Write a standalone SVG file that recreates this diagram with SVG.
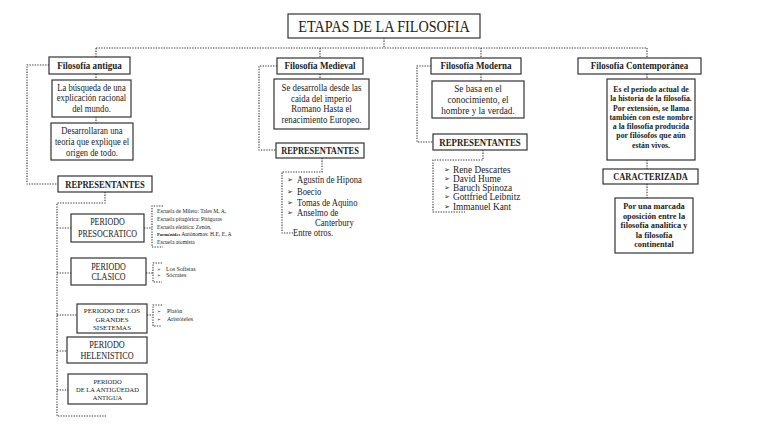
<svg xmlns="http://www.w3.org/2000/svg" width="768" height="433" viewBox="0 0 768 433">
<style>
text{font-family:"Liberation Serif","DejaVu Serif",serif;fill:#222}
.c{text-anchor:middle}
.b{font-weight:bold}
.box{fill:#fff;stroke:#333;stroke-width:1.2}
.dot{fill:none;stroke:#333;stroke-width:1.1;stroke-dasharray:1.3 1.3}
.bul{font-family:"DejaVu Sans",sans-serif}
</style>
<rect width="768" height="433" fill="#fff"/>
<g id="connectors">
<path class="dot" d="M384 38V48M96 48H647M96 48V57M320 48V58M481 48V58M647 48V58"/>
<path class="dot" d="M96 74V80M96 117V123M49 65H27V184H58M105 192V203H57V416H107M57 228H71M57 273H71M57 315H77M57 351H67M57 390H68"/>
<path class="dot" d="M144 228H152M163 206H152V247H163M146 273H153M162 263H153V282H162M147 315H153M162 305H153V326H162"/>
<path class="dot" d="M320 74V79M277 66H259V150H276M322 158V172H282V233H293"/>
<path class="dot" d="M481 74V81M431 66H417V142H433M483 150V160H433V212H465"/>
<path class="dot" d="M647 74V79M647 160V169M647 184V198"/>
</g>
<g id="title">
<rect class="box" x="288" y="14" width="192" height="24"/>
<text class="c" font-size="16.5" transform="translate(384 0) scale(0.86 1)" x="0" y="32">ETAPAS DE LA FILOSOFIA</text>
</g>
<g id="antigua">
<rect class="box" x="49" y="57" width="81" height="17"/>
<text class="c b" font-size="10.5" transform="translate(89.5 0) scale(0.86 1)" x="0" y="69">Filosofía antigua</text>
</g>
<g id="antigua-desc1">
<rect class="box" x="52" y="80" width="79" height="37"/>
<g font-size="10" transform="translate(91.5 0) scale(0.86 1)">
<text class="c" x="0" y="91.5">La búsqueda de una</text>
<text class="c" x="0" y="101.5">explicación racional</text>
<text class="c" x="0" y="112">del mundo.</text>
</g>
</g>
<g id="antigua-desc2">
<rect class="box" x="51" y="123" width="82" height="37"/>
<g font-size="10" transform="translate(92 0) scale(0.86 1)">
<text class="c" x="0" y="134.5">Desarrollaran una</text>
<text class="c" x="0" y="145.5">teoria que explique el</text>
<text class="c" x="0" y="156">origen de todo.</text>
</g>
</g>
<g id="antigua-rep">
<rect class="box" x="58" y="176" width="94" height="16"/>
<text class="c b" font-size="10" transform="translate(105 0) scale(0.86 1)" x="0" y="188">REPRESENTANTES</text>
</g>
<g id="presocratico">
<rect class="box" x="71" y="214" width="73" height="28"/>
<g font-size="10" transform="translate(107.5 0) scale(0.8 1)">
<text class="c" x="0" y="225">PERIODO</text>
<text class="c" x="0" y="237">PRESOCRATICO</text>
</g>
<g font-size="5.6">
<text x="157" y="213">Escuela de Mileto: Tales M, A,</text>
<text x="157" y="220.8">Escuela pitagórica: Pitágoras</text>
<text x="157" y="228.6">Escuela eleática: Zenón,</text>
<text x="157" y="236.4"><tspan font-weight="bold" font-size="4.6">Parménides</tspan> Autónomas: H.E, E, A</text>
<text x="157" y="244.2">Escuela atomista</text>
</g>
</g>
<g id="clasico">
<rect class="box" x="71" y="258" width="75" height="27"/>
<g font-size="10" transform="translate(108.5 0) scale(0.8 1)">
<text class="c" x="0" y="270">PERIODO</text>
<text class="c" x="0" y="280.5">CLASICO</text>
</g>
<text class="bul" font-size="4.5" x="157" y="270.5">➢</text>
<text class="bul" font-size="4.5" x="157" y="276.5">➢</text>
<text font-size="6" x="166" y="271">Los Sofistas</text>
<text font-size="6" x="166" y="277">Sócrates</text>
</g>
<g id="grandes">
<rect class="box" x="77" y="304" width="70" height="29"/>
<g font-size="7">
<text class="c" x="112" y="313">PERIODO DE LOS</text>
<text class="c" x="112" y="321.5">GRANDES</text>
<text class="c" x="112" y="329.5">SISETEMAS</text>
</g>
<text class="bul" font-size="4.5" x="157" y="312.5">➢</text>
<text class="bul" font-size="4.5" x="157" y="320.5">➢</text>
<text font-size="6" x="167" y="313">Platón</text>
<text font-size="6" x="167" y="321">Aristóteles</text>
</g>
<g id="helenistico">
<rect class="box" x="67" y="337" width="80" height="26"/>
<g font-size="10" transform="translate(107 0) scale(0.82 1)">
<text class="c" x="0" y="348.5">PERIODO</text>
<text class="c" x="0" y="359">HELENISTICO</text>
</g>
</g>
<g id="antiguedad">
<rect class="box" x="68" y="374" width="79" height="30"/>
<g font-size="6.5">
<text class="c" x="107.5" y="384">PERIODO</text>
<text class="c" x="107.5" y="391.5">DE LA ANTIGÜEDAD</text>
<text class="c" x="107.5" y="399.5">ANTIGUA</text>
</g>
</g>
<g id="medieval">
<rect class="box" x="277" y="58" width="86" height="16"/>
<text class="c b" font-size="10.5" transform="translate(320 0) scale(0.86 1)" x="0" y="69.5">Filosofía Medieval</text>
</g>
<g id="medieval-desc">
<rect class="box" x="274" y="79" width="95" height="50"/>
<g font-size="10" transform="translate(321.5 0) scale(0.88 1)">
<text class="c" x="0" y="91">Se desarrolla desde las</text>
<text class="c" x="0" y="102">caida del imperio</text>
<text class="c" x="0" y="112.5">Romano Hasta el</text>
<text class="c" x="0" y="123">renacimiento Europeo.</text>
</g>
</g>
<g id="medieval-rep">
<rect class="box" x="276" y="143" width="88" height="15"/>
<text class="c b" font-size="10" transform="translate(320 0) scale(0.84 1)" x="0" y="154.5">REPRESENTANTES</text>
<g class="bul" font-size="7">
<text x="287" y="182">➢</text>
<text x="287" y="194">➢</text>
<text x="287" y="205">➢</text>
<text x="287" y="215">➢</text>
</g>
<g font-size="10" transform="translate(297 0) scale(0.86 1)">
<text x="0" y="183">Agustín de Hipona</text>
<text x="0" y="195">Boecio</text>
<text x="0" y="206">Tomas de Aquino</text>
<text x="0" y="216">Anselmo de</text>
<text x="21" y="226">Canterbury</text>
<text x="-4.6" y="236">Entre otros.</text>
</g>
</g>
<g id="moderna">
<rect class="box" x="431" y="58" width="90" height="16"/>
<text class="c b" font-size="10.5" transform="translate(476 0) scale(0.86 1)" x="0" y="69.5">Filosofía Moderna</text>
</g>
<g id="moderna-desc">
<rect class="box" x="432" y="81" width="92" height="37"/>
<g font-size="10" transform="translate(478 0) scale(0.92 1)">
<text class="c" x="0" y="92.5">Se basa en el</text>
<text class="c" x="0" y="103.5">conocimiento, el</text>
<text class="c" x="0" y="114.5">hombre y la verdad.</text>
</g>
</g>
<g id="moderna-rep">
<rect class="box" x="433" y="134" width="94" height="16"/>
<text class="c b" font-size="10" transform="translate(480 0) scale(0.88 1)" x="0" y="146">REPRESENTANTES</text>
<g class="bul" font-size="6.5">
<text x="444" y="172">➢</text>
<text x="444" y="181">➢</text>
<text x="444" y="190">➢</text>
<text x="444" y="199">➢</text>
<text x="444" y="209">➢</text>
</g>
<g font-size="9.3">
<text x="453" y="173">Rene Descartes</text>
<text x="453" y="182">David Hume</text>
<text x="453" y="191">Baruch Spinoza</text>
<text x="453" y="200">Gottfried Leibnitz</text>
<text x="453" y="210">Immanuel Kant</text>
</g>
</g>
<g id="contemporanea">
<rect class="box" x="578" y="58" width="123" height="16"/>
<text class="c b" font-size="10.5" transform="translate(639.5 0) scale(0.86 1)" x="0" y="69.5">Filosofía Contemporánea</text>
</g>
<g id="contemporanea-desc">
<rect class="box" x="607" y="79" width="88" height="81"/>
<g class="b" font-size="8.3" transform="translate(651 0) scale(0.94 1)">
<text class="c" x="0" y="92">Es el periodo actual de</text>
<text class="c" x="0" y="101.3">la historia de la filosofía.</text>
<text class="c" x="0" y="110.6">Por extensión, se llama</text>
<text class="c" x="0" y="119.9">también con este nombre</text>
<text class="c" x="0" y="129.2">a la filosofía producida</text>
<text class="c" x="0" y="138.5">por filósofos que aún</text>
<text class="c" x="0" y="147.8">están vivos.</text>
</g>
</g>
<g id="caracterizada">
<rect class="box" x="603" y="169" width="95" height="15"/>
<text class="c b" font-size="10" transform="translate(650.5 0) scale(0.84 1)" x="0" y="180.5">CARACTERIZADA</text>
</g>
<g id="caracterizada-desc">
<rect class="box" x="615" y="198" width="78" height="55"/>
<g class="b" font-size="8.3">
<text class="c" x="654" y="209">Por una marcada</text>
<text class="c" x="654" y="218.5">oposición entre la</text>
<text class="c" x="654" y="228">filosofía analítica y</text>
<text class="c" x="654" y="237.5">la filosofía</text>
<text class="c" x="654" y="247">continental</text>
</g>
</g>
</svg>
